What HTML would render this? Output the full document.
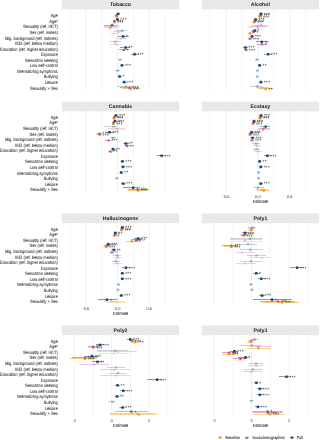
<!DOCTYPE html>
<html><head><meta charset="utf-8"><style>
html,body{margin:0;padding:0;width:319px;height:440px;overflow:hidden;background:#fff;}
svg text{font-family:"Liberation Sans",sans-serif;text-rendering:geometricPrecision;}
</style></head><body>
<svg width="319" height="440" viewBox="0 0 319 440" style="position:absolute;left:0;top:0;will-change:transform">
<rect x="0" y="0" width="319" height="440" fill="#FFFFFF"/>
<line x1="70.05" y1="9.40" x2="70.05" y2="90.50" stroke="#EBEBEB" stroke-width="0.5"/>
<line x1="101.75" y1="9.40" x2="101.75" y2="90.50" stroke="#EBEBEB" stroke-width="0.5"/>
<line x1="133.45" y1="9.40" x2="133.45" y2="90.50" stroke="#EBEBEB" stroke-width="0.5"/>
<line x1="165.15" y1="9.40" x2="165.15" y2="90.50" stroke="#EBEBEB" stroke-width="0.5"/>
<line x1="85.90" y1="9.40" x2="85.90" y2="90.50" stroke="#E0E0E0" stroke-width="0.5"/>
<line x1="149.30" y1="9.40" x2="149.30" y2="90.50" stroke="#E0E0E0" stroke-width="0.5"/>
<line x1="117.60" y1="9.40" x2="117.60" y2="90.50" stroke="#C8C8C8" stroke-width="0.5" stroke-dasharray="1.5 1"/>
<rect x="61.75" y="0.0" width="117.5" height="9.4" fill="#E8E8E8"/>
<text x="120.50" y="5.80" font-size="5.2" font-weight="bold" text-anchor="middle" fill="#1A1A1A">Tobacco</text>
<text x="50.68" y="17.30" font-size="4.5" textLength="7.12" lengthAdjust="spacingAndGlyphs" fill="#3A3A3A" stroke="#3A3A3A" stroke-width="0.08">Age</text>
<text x="49.35" y="22.86" font-size="4.5" textLength="8.45" lengthAdjust="spacingAndGlyphs" fill="#3A3A3A" stroke="#3A3A3A" stroke-width="0.08">Age²</text>
<text x="22.90" y="28.42" font-size="4.5" textLength="34.90" lengthAdjust="spacingAndGlyphs" fill="#3A3A3A" stroke="#3A3A3A" stroke-width="0.08">Sexuality (ref. HET)</text>
<text x="29.57" y="33.98" font-size="4.5" textLength="28.23" lengthAdjust="spacingAndGlyphs" fill="#3A3A3A" stroke="#3A3A3A" stroke-width="0.08">Sex (ref. males)</text>
<text x="4.89" y="39.54" font-size="4.5" textLength="52.91" lengthAdjust="spacingAndGlyphs" fill="#3A3A3A" stroke="#3A3A3A" stroke-width="0.08">Mig. background (ref. natives)</text>
<text x="14.89" y="45.10" font-size="4.5" textLength="42.91" lengthAdjust="spacingAndGlyphs" fill="#3A3A3A" stroke="#3A3A3A" stroke-width="0.08">ISEI (ref. below median)</text>
<text x="-0.24" y="50.66" font-size="4.5" textLength="58.04" lengthAdjust="spacingAndGlyphs" fill="#3A3A3A" stroke="#3A3A3A" stroke-width="0.08">Education (ref. higher education)</text>
<text x="40.90" y="56.22" font-size="4.5" textLength="16.90" lengthAdjust="spacingAndGlyphs" fill="#3A3A3A" stroke="#3A3A3A" stroke-width="0.08">Exposure</text>
<text x="25.11" y="61.78" font-size="4.5" textLength="32.69" lengthAdjust="spacingAndGlyphs" fill="#3A3A3A" stroke="#3A3A3A" stroke-width="0.08">Sensation seeking</text>
<text x="29.79" y="67.34" font-size="4.5" textLength="28.01" lengthAdjust="spacingAndGlyphs" fill="#3A3A3A" stroke="#3A3A3A" stroke-width="0.08">Low self-control</text>
<text x="16.90" y="72.90" font-size="4.5" textLength="40.90" lengthAdjust="spacingAndGlyphs" fill="#3A3A3A" stroke="#3A3A3A" stroke-width="0.08">Internalizing symptoms</text>
<text x="43.79" y="78.46" font-size="4.5" textLength="14.01" lengthAdjust="spacingAndGlyphs" fill="#3A3A3A" stroke="#3A3A3A" stroke-width="0.08">Bullying</text>
<text x="44.68" y="84.02" font-size="4.5" textLength="13.12" lengthAdjust="spacingAndGlyphs" fill="#3A3A3A" stroke="#3A3A3A" stroke-width="0.08">Leisure</text>
<text x="30.12" y="89.58" font-size="4.5" textLength="27.68" lengthAdjust="spacingAndGlyphs" fill="#3A3A3A" stroke="#3A3A3A" stroke-width="0.08">Sexuality × Sex</text>
<line x1="210.05" y1="9.40" x2="210.05" y2="90.50" stroke="#EBEBEB" stroke-width="0.5"/>
<line x1="241.95" y1="9.40" x2="241.95" y2="90.50" stroke="#EBEBEB" stroke-width="0.5"/>
<line x1="273.85" y1="9.40" x2="273.85" y2="90.50" stroke="#EBEBEB" stroke-width="0.5"/>
<line x1="305.75" y1="9.40" x2="305.75" y2="90.50" stroke="#EBEBEB" stroke-width="0.5"/>
<line x1="226.00" y1="9.40" x2="226.00" y2="90.50" stroke="#E0E0E0" stroke-width="0.5"/>
<line x1="289.80" y1="9.40" x2="289.80" y2="90.50" stroke="#E0E0E0" stroke-width="0.5"/>
<line x1="257.90" y1="9.40" x2="257.90" y2="90.50" stroke="#C8C8C8" stroke-width="0.5" stroke-dasharray="1.5 1"/>
<rect x="201.75" y="0.0" width="117.25" height="9.4" fill="#E8E8E8"/>
<text x="260.38" y="5.80" font-size="5.2" font-weight="bold" text-anchor="middle" fill="#1A1A1A">Alcohol</text>
<line x1="70.05" y1="111.00" x2="70.05" y2="192.10" stroke="#EBEBEB" stroke-width="0.5"/>
<line x1="101.75" y1="111.00" x2="101.75" y2="192.10" stroke="#EBEBEB" stroke-width="0.5"/>
<line x1="133.45" y1="111.00" x2="133.45" y2="192.10" stroke="#EBEBEB" stroke-width="0.5"/>
<line x1="165.15" y1="111.00" x2="165.15" y2="192.10" stroke="#EBEBEB" stroke-width="0.5"/>
<line x1="85.90" y1="111.00" x2="85.90" y2="192.10" stroke="#E0E0E0" stroke-width="0.5"/>
<line x1="149.30" y1="111.00" x2="149.30" y2="192.10" stroke="#E0E0E0" stroke-width="0.5"/>
<line x1="117.60" y1="111.00" x2="117.60" y2="192.10" stroke="#C8C8C8" stroke-width="0.5" stroke-dasharray="1.5 1"/>
<rect x="61.75" y="101.6" width="117.5" height="9.700000000000001" fill="#E8E8E8"/>
<text x="120.50" y="107.95" font-size="5.2" font-weight="bold" text-anchor="middle" fill="#1A1A1A">Cannabis</text>
<text x="50.68" y="118.90" font-size="4.5" textLength="7.12" lengthAdjust="spacingAndGlyphs" fill="#3A3A3A" stroke="#3A3A3A" stroke-width="0.08">Age</text>
<text x="49.35" y="124.46" font-size="4.5" textLength="8.45" lengthAdjust="spacingAndGlyphs" fill="#3A3A3A" stroke="#3A3A3A" stroke-width="0.08">Age²</text>
<text x="22.90" y="130.02" font-size="4.5" textLength="34.90" lengthAdjust="spacingAndGlyphs" fill="#3A3A3A" stroke="#3A3A3A" stroke-width="0.08">Sexuality (ref. HET)</text>
<text x="29.57" y="135.58" font-size="4.5" textLength="28.23" lengthAdjust="spacingAndGlyphs" fill="#3A3A3A" stroke="#3A3A3A" stroke-width="0.08">Sex (ref. males)</text>
<text x="4.89" y="141.14" font-size="4.5" textLength="52.91" lengthAdjust="spacingAndGlyphs" fill="#3A3A3A" stroke="#3A3A3A" stroke-width="0.08">Mig. background (ref. natives)</text>
<text x="14.89" y="146.70" font-size="4.5" textLength="42.91" lengthAdjust="spacingAndGlyphs" fill="#3A3A3A" stroke="#3A3A3A" stroke-width="0.08">ISEI (ref. below median)</text>
<text x="-0.24" y="152.26" font-size="4.5" textLength="58.04" lengthAdjust="spacingAndGlyphs" fill="#3A3A3A" stroke="#3A3A3A" stroke-width="0.08">Education (ref. higher education)</text>
<text x="40.90" y="157.82" font-size="4.5" textLength="16.90" lengthAdjust="spacingAndGlyphs" fill="#3A3A3A" stroke="#3A3A3A" stroke-width="0.08">Exposure</text>
<text x="25.11" y="163.38" font-size="4.5" textLength="32.69" lengthAdjust="spacingAndGlyphs" fill="#3A3A3A" stroke="#3A3A3A" stroke-width="0.08">Sensation seeking</text>
<text x="29.79" y="168.94" font-size="4.5" textLength="28.01" lengthAdjust="spacingAndGlyphs" fill="#3A3A3A" stroke="#3A3A3A" stroke-width="0.08">Low self-control</text>
<text x="16.90" y="174.50" font-size="4.5" textLength="40.90" lengthAdjust="spacingAndGlyphs" fill="#3A3A3A" stroke="#3A3A3A" stroke-width="0.08">Internalizing symptoms</text>
<text x="43.79" y="180.06" font-size="4.5" textLength="14.01" lengthAdjust="spacingAndGlyphs" fill="#3A3A3A" stroke="#3A3A3A" stroke-width="0.08">Bullying</text>
<text x="44.68" y="185.62" font-size="4.5" textLength="13.12" lengthAdjust="spacingAndGlyphs" fill="#3A3A3A" stroke="#3A3A3A" stroke-width="0.08">Leisure</text>
<text x="30.12" y="191.18" font-size="4.5" textLength="27.68" lengthAdjust="spacingAndGlyphs" fill="#3A3A3A" stroke="#3A3A3A" stroke-width="0.08">Sexuality × Sex</text>
<line x1="210.05" y1="111.00" x2="210.05" y2="192.10" stroke="#EBEBEB" stroke-width="0.5"/>
<line x1="241.95" y1="111.00" x2="241.95" y2="192.10" stroke="#EBEBEB" stroke-width="0.5"/>
<line x1="273.85" y1="111.00" x2="273.85" y2="192.10" stroke="#EBEBEB" stroke-width="0.5"/>
<line x1="305.75" y1="111.00" x2="305.75" y2="192.10" stroke="#EBEBEB" stroke-width="0.5"/>
<line x1="226.00" y1="111.00" x2="226.00" y2="192.10" stroke="#E0E0E0" stroke-width="0.5"/>
<line x1="289.80" y1="111.00" x2="289.80" y2="192.10" stroke="#E0E0E0" stroke-width="0.5"/>
<line x1="257.90" y1="111.00" x2="257.90" y2="192.10" stroke="#C8C8C8" stroke-width="0.5" stroke-dasharray="1.5 1"/>
<rect x="201.75" y="101.6" width="117.25" height="9.700000000000001" fill="#E8E8E8"/>
<text x="260.38" y="107.95" font-size="5.2" font-weight="bold" text-anchor="middle" fill="#1A1A1A">Ecstasy</text>
<text x="226.00" y="197.70" font-size="4.0" text-anchor="middle" fill="#505050" stroke="#505050" stroke-width="0.06">-0.5</text>
<text x="257.90" y="197.70" font-size="4.0" text-anchor="middle" fill="#505050" stroke="#505050" stroke-width="0.06">0.0</text>
<text x="289.80" y="197.70" font-size="4.0" text-anchor="middle" fill="#505050" stroke="#505050" stroke-width="0.06">0.5</text>
<text x="252.69" y="202.80" font-size="4.5" textLength="15.37" lengthAdjust="spacingAndGlyphs" fill="#1A1A1A" stroke="#1A1A1A" stroke-width="0.06">Estimate</text>
<line x1="70.05" y1="222.90" x2="70.05" y2="304.00" stroke="#EBEBEB" stroke-width="0.5"/>
<line x1="101.75" y1="222.90" x2="101.75" y2="304.00" stroke="#EBEBEB" stroke-width="0.5"/>
<line x1="133.45" y1="222.90" x2="133.45" y2="304.00" stroke="#EBEBEB" stroke-width="0.5"/>
<line x1="165.15" y1="222.90" x2="165.15" y2="304.00" stroke="#EBEBEB" stroke-width="0.5"/>
<line x1="85.90" y1="222.90" x2="85.90" y2="304.00" stroke="#E0E0E0" stroke-width="0.5"/>
<line x1="149.30" y1="222.90" x2="149.30" y2="304.00" stroke="#E0E0E0" stroke-width="0.5"/>
<line x1="117.60" y1="222.90" x2="117.60" y2="304.00" stroke="#C8C8C8" stroke-width="0.5" stroke-dasharray="1.5 1"/>
<rect x="61.75" y="213.5" width="117.5" height="9.700000000000001" fill="#E8E8E8"/>
<text x="120.50" y="219.85" font-size="5.2" font-weight="bold" text-anchor="middle" fill="#1A1A1A">Hallucinogens</text>
<text x="50.68" y="230.80" font-size="4.5" textLength="7.12" lengthAdjust="spacingAndGlyphs" fill="#3A3A3A" stroke="#3A3A3A" stroke-width="0.08">Age</text>
<text x="49.35" y="236.36" font-size="4.5" textLength="8.45" lengthAdjust="spacingAndGlyphs" fill="#3A3A3A" stroke="#3A3A3A" stroke-width="0.08">Age²</text>
<text x="22.90" y="241.92" font-size="4.5" textLength="34.90" lengthAdjust="spacingAndGlyphs" fill="#3A3A3A" stroke="#3A3A3A" stroke-width="0.08">Sexuality (ref. HET)</text>
<text x="29.57" y="247.48" font-size="4.5" textLength="28.23" lengthAdjust="spacingAndGlyphs" fill="#3A3A3A" stroke="#3A3A3A" stroke-width="0.08">Sex (ref. males)</text>
<text x="4.89" y="253.04" font-size="4.5" textLength="52.91" lengthAdjust="spacingAndGlyphs" fill="#3A3A3A" stroke="#3A3A3A" stroke-width="0.08">Mig. background (ref. natives)</text>
<text x="14.89" y="258.60" font-size="4.5" textLength="42.91" lengthAdjust="spacingAndGlyphs" fill="#3A3A3A" stroke="#3A3A3A" stroke-width="0.08">ISEI (ref. below median)</text>
<text x="-0.24" y="264.16" font-size="4.5" textLength="58.04" lengthAdjust="spacingAndGlyphs" fill="#3A3A3A" stroke="#3A3A3A" stroke-width="0.08">Education (ref. higher education)</text>
<text x="40.90" y="269.72" font-size="4.5" textLength="16.90" lengthAdjust="spacingAndGlyphs" fill="#3A3A3A" stroke="#3A3A3A" stroke-width="0.08">Exposure</text>
<text x="25.11" y="275.28" font-size="4.5" textLength="32.69" lengthAdjust="spacingAndGlyphs" fill="#3A3A3A" stroke="#3A3A3A" stroke-width="0.08">Sensation seeking</text>
<text x="29.79" y="280.84" font-size="4.5" textLength="28.01" lengthAdjust="spacingAndGlyphs" fill="#3A3A3A" stroke="#3A3A3A" stroke-width="0.08">Low self-control</text>
<text x="16.90" y="286.40" font-size="4.5" textLength="40.90" lengthAdjust="spacingAndGlyphs" fill="#3A3A3A" stroke="#3A3A3A" stroke-width="0.08">Internalizing symptoms</text>
<text x="43.79" y="291.96" font-size="4.5" textLength="14.01" lengthAdjust="spacingAndGlyphs" fill="#3A3A3A" stroke="#3A3A3A" stroke-width="0.08">Bullying</text>
<text x="44.68" y="297.52" font-size="4.5" textLength="13.12" lengthAdjust="spacingAndGlyphs" fill="#3A3A3A" stroke="#3A3A3A" stroke-width="0.08">Leisure</text>
<text x="30.12" y="303.08" font-size="4.5" textLength="27.68" lengthAdjust="spacingAndGlyphs" fill="#3A3A3A" stroke="#3A3A3A" stroke-width="0.08">Sexuality × Sex</text>
<text x="85.90" y="309.60" font-size="4.0" text-anchor="middle" fill="#505050" stroke="#505050" stroke-width="0.06">-0.5</text>
<text x="117.60" y="309.60" font-size="4.0" text-anchor="middle" fill="#505050" stroke="#505050" stroke-width="0.06">0.0</text>
<text x="149.30" y="309.60" font-size="4.0" text-anchor="middle" fill="#505050" stroke="#505050" stroke-width="0.06">0.5</text>
<text x="112.82" y="314.70" font-size="4.5" textLength="15.37" lengthAdjust="spacingAndGlyphs" fill="#1A1A1A" stroke="#1A1A1A" stroke-width="0.06">Estimate</text>
<line x1="232.75" y1="222.90" x2="232.75" y2="304.00" stroke="#EBEBEB" stroke-width="0.5"/>
<line x1="270.25" y1="222.90" x2="270.25" y2="304.00" stroke="#EBEBEB" stroke-width="0.5"/>
<line x1="307.75" y1="222.90" x2="307.75" y2="304.00" stroke="#EBEBEB" stroke-width="0.5"/>
<line x1="214.00" y1="222.90" x2="214.00" y2="304.00" stroke="#E0E0E0" stroke-width="0.5"/>
<line x1="289.00" y1="222.90" x2="289.00" y2="304.00" stroke="#E0E0E0" stroke-width="0.5"/>
<line x1="251.50" y1="222.90" x2="251.50" y2="304.00" stroke="#C8C8C8" stroke-width="0.5" stroke-dasharray="1.5 1"/>
<rect x="201.75" y="213.5" width="117.25" height="9.700000000000001" fill="#E8E8E8"/>
<text x="260.38" y="219.85" font-size="5.2" font-weight="bold" text-anchor="middle" fill="#1A1A1A">Poly1</text>
<line x1="93.00" y1="334.90" x2="93.00" y2="416.00" stroke="#EBEBEB" stroke-width="0.5"/>
<line x1="130.40" y1="334.90" x2="130.40" y2="416.00" stroke="#EBEBEB" stroke-width="0.5"/>
<line x1="167.80" y1="334.90" x2="167.80" y2="416.00" stroke="#EBEBEB" stroke-width="0.5"/>
<line x1="74.30" y1="334.90" x2="74.30" y2="416.00" stroke="#E0E0E0" stroke-width="0.5"/>
<line x1="149.10" y1="334.90" x2="149.10" y2="416.00" stroke="#E0E0E0" stroke-width="0.5"/>
<line x1="111.70" y1="334.90" x2="111.70" y2="416.00" stroke="#C8C8C8" stroke-width="0.5" stroke-dasharray="1.5 1"/>
<rect x="61.75" y="325.5" width="117.5" height="9.700000000000001" fill="#E8E8E8"/>
<text x="120.50" y="331.85" font-size="5.2" font-weight="bold" text-anchor="middle" fill="#1A1A1A">Poly2</text>
<text x="50.68" y="342.80" font-size="4.5" textLength="7.12" lengthAdjust="spacingAndGlyphs" fill="#3A3A3A" stroke="#3A3A3A" stroke-width="0.08">Age</text>
<text x="49.35" y="348.36" font-size="4.5" textLength="8.45" lengthAdjust="spacingAndGlyphs" fill="#3A3A3A" stroke="#3A3A3A" stroke-width="0.08">Age²</text>
<text x="22.90" y="353.92" font-size="4.5" textLength="34.90" lengthAdjust="spacingAndGlyphs" fill="#3A3A3A" stroke="#3A3A3A" stroke-width="0.08">Sexuality (ref. HET)</text>
<text x="29.57" y="359.48" font-size="4.5" textLength="28.23" lengthAdjust="spacingAndGlyphs" fill="#3A3A3A" stroke="#3A3A3A" stroke-width="0.08">Sex (ref. males)</text>
<text x="4.89" y="365.04" font-size="4.5" textLength="52.91" lengthAdjust="spacingAndGlyphs" fill="#3A3A3A" stroke="#3A3A3A" stroke-width="0.08">Mig. background (ref. natives)</text>
<text x="14.89" y="370.60" font-size="4.5" textLength="42.91" lengthAdjust="spacingAndGlyphs" fill="#3A3A3A" stroke="#3A3A3A" stroke-width="0.08">ISEI (ref. below median)</text>
<text x="-0.24" y="376.16" font-size="4.5" textLength="58.04" lengthAdjust="spacingAndGlyphs" fill="#3A3A3A" stroke="#3A3A3A" stroke-width="0.08">Education (ref. higher education)</text>
<text x="40.90" y="381.72" font-size="4.5" textLength="16.90" lengthAdjust="spacingAndGlyphs" fill="#3A3A3A" stroke="#3A3A3A" stroke-width="0.08">Exposure</text>
<text x="25.11" y="387.28" font-size="4.5" textLength="32.69" lengthAdjust="spacingAndGlyphs" fill="#3A3A3A" stroke="#3A3A3A" stroke-width="0.08">Sensation seeking</text>
<text x="29.79" y="392.84" font-size="4.5" textLength="28.01" lengthAdjust="spacingAndGlyphs" fill="#3A3A3A" stroke="#3A3A3A" stroke-width="0.08">Low self-control</text>
<text x="16.90" y="398.40" font-size="4.5" textLength="40.90" lengthAdjust="spacingAndGlyphs" fill="#3A3A3A" stroke="#3A3A3A" stroke-width="0.08">Internalizing symptoms</text>
<text x="43.79" y="403.96" font-size="4.5" textLength="14.01" lengthAdjust="spacingAndGlyphs" fill="#3A3A3A" stroke="#3A3A3A" stroke-width="0.08">Bullying</text>
<text x="44.68" y="409.52" font-size="4.5" textLength="13.12" lengthAdjust="spacingAndGlyphs" fill="#3A3A3A" stroke="#3A3A3A" stroke-width="0.08">Leisure</text>
<text x="30.12" y="415.08" font-size="4.5" textLength="27.68" lengthAdjust="spacingAndGlyphs" fill="#3A3A3A" stroke="#3A3A3A" stroke-width="0.08">Sexuality × Sex</text>
<text x="74.30" y="421.60" font-size="4.0" text-anchor="middle" fill="#505050" stroke="#505050" stroke-width="0.06">-2</text>
<text x="111.70" y="421.60" font-size="4.0" text-anchor="middle" fill="#505050" stroke="#505050" stroke-width="0.06">0</text>
<text x="149.10" y="421.60" font-size="4.0" text-anchor="middle" fill="#505050" stroke="#505050" stroke-width="0.06">2</text>
<text x="112.82" y="426.70" font-size="4.5" textLength="15.37" lengthAdjust="spacingAndGlyphs" fill="#1A1A1A" stroke="#1A1A1A" stroke-width="0.06">Estimate</text>
<line x1="232.70" y1="334.90" x2="232.70" y2="416.00" stroke="#EBEBEB" stroke-width="0.5"/>
<line x1="270.30" y1="334.90" x2="270.30" y2="416.00" stroke="#EBEBEB" stroke-width="0.5"/>
<line x1="307.90" y1="334.90" x2="307.90" y2="416.00" stroke="#EBEBEB" stroke-width="0.5"/>
<line x1="213.90" y1="334.90" x2="213.90" y2="416.00" stroke="#E0E0E0" stroke-width="0.5"/>
<line x1="289.10" y1="334.90" x2="289.10" y2="416.00" stroke="#E0E0E0" stroke-width="0.5"/>
<line x1="251.50" y1="334.90" x2="251.50" y2="416.00" stroke="#C8C8C8" stroke-width="0.5" stroke-dasharray="1.5 1"/>
<rect x="201.75" y="325.5" width="117.25" height="9.700000000000001" fill="#E8E8E8"/>
<text x="260.38" y="331.85" font-size="5.2" font-weight="bold" text-anchor="middle" fill="#1A1A1A">Poly3</text>
<text x="213.90" y="421.60" font-size="4.0" text-anchor="middle" fill="#505050" stroke="#505050" stroke-width="0.06">-2</text>
<text x="251.50" y="421.60" font-size="4.0" text-anchor="middle" fill="#505050" stroke="#505050" stroke-width="0.06">0</text>
<text x="289.10" y="421.60" font-size="4.0" text-anchor="middle" fill="#505050" stroke="#505050" stroke-width="0.06">2</text>
<text x="252.69" y="426.70" font-size="4.5" textLength="15.37" lengthAdjust="spacingAndGlyphs" fill="#1A1A1A" stroke="#1A1A1A" stroke-width="0.06">Estimate</text>
<line x1="115.5" y1="16.50" x2="118" y2="16.50" stroke="#F4A000" stroke-width="0.55" opacity="1.0"/>
<circle cx="116.8" cy="16.70" r="1.35" fill="#F4A000" opacity="1.0"/>
<line x1="115" y1="15.50" x2="117.5" y2="15.50" stroke="#B5489C" stroke-width="0.55" opacity="1.0"/>
<path d="M116.20 13.69 L117.75 16.37 L114.65 16.37 Z" fill="#B5489C" opacity="1.0"/>
<line x1="116.5" y1="13.50" x2="119.5" y2="13.50" stroke="#1B4A6E" stroke-width="0.55" opacity="1.0"/>
<rect x="116.95" y="12.65" width="2.5" height="2.5" fill="#1B4A6E" opacity="1.0"/>
<line x1="113" y1="22.50" x2="116" y2="22.50" stroke="#F4A000" stroke-width="0.55" opacity="1.0"/>
<circle cx="114.6" cy="22.26" r="1.35" fill="#F4A000" opacity="1.0"/>
<text x="117.50" y="24.11" font-size="4.7" letter-spacing="0.35" fill="#000000">***</text>
<line x1="113" y1="20.50" x2="115.8" y2="20.50" stroke="#B5489C" stroke-width="0.55" opacity="1.0"/>
<path d="M114.30 19.25 L115.85 21.93 L112.75 21.93 Z" fill="#B5489C" opacity="1.0"/>
<text x="117.20" y="22.71" font-size="4.7" letter-spacing="0.35" fill="#000000">***</text>
<line x1="116" y1="19.50" x2="119" y2="19.50" stroke="#1B4A6E" stroke-width="0.55" opacity="1.0"/>
<rect x="116.15" y="18.21" width="2.5" height="2.5" fill="#1B4A6E" opacity="1.0"/>
<text x="120.30" y="21.31" font-size="4.7" letter-spacing="0.35" fill="#000000">***</text>
<line x1="103" y1="27.50" x2="118" y2="27.50" stroke="#F4A000" stroke-width="0.55" opacity="0.73"/>
<circle cx="110.4" cy="27.82" r="1.35" fill="#F4A000" opacity="0.73"/>
<line x1="104" y1="26.50" x2="120" y2="26.50" stroke="#B5489C" stroke-width="0.55" opacity="0.46"/>
<path d="M110.50 24.81 L112.05 27.49 L108.95 27.49 Z" fill="#B5489C" opacity="0.276"/>
<line x1="103.8" y1="25.50" x2="117.5" y2="25.50" stroke="#1B4A6E" stroke-width="0.55" opacity="0.73"/>
<rect x="110.85" y="23.77" width="2.5" height="2.5" fill="#1B4A6E" opacity="0.73"/>
<line x1="110" y1="33.50" x2="122" y2="33.50" stroke="#F4A000" stroke-width="0.55" opacity="0.46"/>
<circle cx="114" cy="33.38" r="1.35" fill="#F4A000" opacity="0.276"/>
<line x1="113" y1="31.50" x2="124" y2="31.50" stroke="#B5489C" stroke-width="0.55" opacity="0.46"/>
<path d="M118.00 30.37 L119.55 33.05 L116.45 33.05 Z" fill="#B5489C" opacity="0.276"/>
<line x1="116" y1="30.50" x2="127" y2="30.50" stroke="#1B4A6E" stroke-width="0.55" opacity="0.46"/>
<rect x="120.75" y="29.33" width="2.5" height="2.5" fill="#1B4A6E" opacity="0.276"/>
<line x1="116" y1="38.50" x2="126" y2="38.50" stroke="#B5489C" stroke-width="0.55" opacity="0.46"/>
<path d="M121.00 37.08 L122.55 39.76 L119.45 39.76 Z" fill="#B5489C" opacity="0.276"/>
<line x1="117.5" y1="36.50" x2="128.8" y2="36.50" stroke="#1B4A6E" stroke-width="0.55" opacity="1.0"/>
<rect x="121.95" y="35.14" width="2.5" height="2.5" fill="#1B4A6E" opacity="1.0"/>
<text x="126.10" y="38.24" font-size="4.7" letter-spacing="0.35" fill="#000000">*</text>
<line x1="110" y1="44.50" x2="122" y2="44.50" stroke="#B5489C" stroke-width="0.55" opacity="0.46"/>
<path d="M116.00 42.64 L117.55 45.32 L114.45 45.32 Z" fill="#B5489C" opacity="0.276"/>
<line x1="109" y1="41.50" x2="121" y2="41.50" stroke="#1B4A6E" stroke-width="0.55" opacity="0.46"/>
<rect x="113.75" y="40.70" width="2.5" height="2.5" fill="#1B4A6E" opacity="0.276"/>
<line x1="119" y1="49.50" x2="129" y2="49.50" stroke="#B5489C" stroke-width="0.55" opacity="1.0"/>
<path d="M123.80 48.20 L125.35 50.88 L122.25 50.88 Z" fill="#B5489C" opacity="1.0"/>
<text x="126.70" y="51.66" font-size="4.7" letter-spacing="0.35" fill="#000000">*</text>
<line x1="120" y1="47.50" x2="130" y2="47.50" stroke="#1B4A6E" stroke-width="0.55" opacity="1.0"/>
<rect x="124.45" y="46.26" width="2.5" height="2.5" fill="#1B4A6E" opacity="1.0"/>
<text x="128.60" y="49.36" font-size="4.7" letter-spacing="0.35" fill="#000000">**</text>
<line x1="131.1" y1="54.50" x2="138.8" y2="54.50" stroke="#1B4A6E" stroke-width="0.55" opacity="1.0"/>
<rect x="133.35" y="52.97" width="2.5" height="2.5" fill="#1B4A6E" opacity="1.0"/>
<text x="137.50" y="56.07" font-size="4.7" letter-spacing="0.35" fill="#000000">***</text>
<line x1="118" y1="59.50" x2="122" y2="59.50" stroke="#1B4A6E" stroke-width="0.55" opacity="0.46"/>
<rect x="118.75" y="58.53" width="2.5" height="2.5" fill="#1B4A6E" opacity="0.276"/>
<line x1="120" y1="65.50" x2="124.5" y2="65.50" stroke="#1B4A6E" stroke-width="0.55" opacity="1.0"/>
<rect x="120.75" y="64.09" width="2.5" height="2.5" fill="#1B4A6E" opacity="1.0"/>
<text x="124.90" y="67.19" font-size="4.7" letter-spacing="0.35" fill="#000000">***</text>
<line x1="115" y1="70.50" x2="120.5" y2="70.50" stroke="#1B4A6E" stroke-width="0.55" opacity="0.46"/>
<rect x="116.35" y="69.65" width="2.5" height="2.5" fill="#1B4A6E" opacity="0.276"/>
<line x1="118" y1="76.50" x2="121.5" y2="76.50" stroke="#1B4A6E" stroke-width="0.55" opacity="1.0"/>
<rect x="118.35" y="75.21" width="2.5" height="2.5" fill="#1B4A6E" opacity="1.0"/>
<text x="122.50" y="78.31" font-size="4.7" letter-spacing="0.35" fill="#000000">*</text>
<line x1="121.9" y1="82.50" x2="127" y2="82.50" stroke="#1B4A6E" stroke-width="0.55" opacity="1.0"/>
<rect x="122.95" y="80.77" width="2.5" height="2.5" fill="#1B4A6E" opacity="1.0"/>
<text x="127.10" y="83.87" font-size="4.7" letter-spacing="0.35" fill="#000000">***</text>
<line x1="122" y1="88.50" x2="138" y2="88.50" stroke="#F4A000" stroke-width="0.55" opacity="1.0"/>
<circle cx="130.7" cy="88.98" r="1.35" fill="#F4A000" opacity="1.0"/>
<text x="133.60" y="90.83" font-size="4.7" letter-spacing="0.35" fill="#000000">***</text>
<line x1="120" y1="87.50" x2="139" y2="87.50" stroke="#B5489C" stroke-width="0.55" opacity="1.0"/>
<path d="M129.40 85.97 L130.95 88.65 L127.85 88.65 Z" fill="#B5489C" opacity="1.0"/>
<text x="132.30" y="89.43" font-size="4.7" letter-spacing="0.35" fill="#000000">***</text>
<line x1="117.5" y1="86.50" x2="134.5" y2="86.50" stroke="#1B4A6E" stroke-width="0.55" opacity="0.46"/>
<rect x="124.75" y="84.93" width="2.5" height="2.5" fill="#1B4A6E" opacity="0.276"/>
<line x1="258" y1="16.50" x2="262" y2="16.50" stroke="#F4A000" stroke-width="0.55" opacity="1.0"/>
<circle cx="260" cy="16.70" r="1.35" fill="#F4A000" opacity="1.0"/>
<text x="262.90" y="18.55" font-size="4.7" letter-spacing="0.35" fill="#000000">***</text>
<line x1="258.5" y1="15.50" x2="262.5" y2="15.50" stroke="#B5489C" stroke-width="0.55" opacity="1.0"/>
<path d="M260.50 13.69 L262.05 16.37 L258.95 16.37 Z" fill="#B5489C" opacity="1.0"/>
<text x="263.40" y="17.15" font-size="4.7" letter-spacing="0.35" fill="#000000">***</text>
<line x1="259" y1="13.50" x2="263" y2="13.50" stroke="#1B4A6E" stroke-width="0.55" opacity="1.0"/>
<rect x="259.75" y="12.65" width="2.5" height="2.5" fill="#1B4A6E" opacity="1.0"/>
<text x="263.90" y="15.75" font-size="4.7" letter-spacing="0.35" fill="#000000">***</text>
<line x1="252" y1="22.50" x2="256" y2="22.50" stroke="#F4A000" stroke-width="0.55" opacity="1.0"/>
<circle cx="254" cy="22.26" r="1.35" fill="#F4A000" opacity="1.0"/>
<text x="256.90" y="24.11" font-size="4.7" letter-spacing="0.35" fill="#000000">***</text>
<line x1="253" y1="20.50" x2="257" y2="20.50" stroke="#B5489C" stroke-width="0.55" opacity="1.0"/>
<path d="M255.00 19.25 L256.55 21.93 L253.45 21.93 Z" fill="#B5489C" opacity="1.0"/>
<text x="257.90" y="22.71" font-size="4.7" letter-spacing="0.35" fill="#000000">***</text>
<line x1="254" y1="19.50" x2="257.5" y2="19.50" stroke="#1B4A6E" stroke-width="0.55" opacity="1.0"/>
<rect x="254.35" y="18.21" width="2.5" height="2.5" fill="#1B4A6E" opacity="1.0"/>
<text x="258.50" y="21.31" font-size="4.7" letter-spacing="0.35" fill="#000000">***</text>
<line x1="247" y1="27.50" x2="266" y2="27.50" stroke="#F4A000" stroke-width="0.55" opacity="0.46"/>
<circle cx="257" cy="27.82" r="1.35" fill="#F4A000" opacity="0.276"/>
<line x1="249" y1="26.50" x2="267" y2="26.50" stroke="#B5489C" stroke-width="0.55" opacity="0.46"/>
<path d="M258.00 24.81 L259.55 27.49 L256.45 27.49 Z" fill="#B5489C" opacity="0.276"/>
<line x1="251" y1="25.50" x2="268" y2="25.50" stroke="#1B4A6E" stroke-width="0.55" opacity="0.46"/>
<rect x="259.75" y="23.77" width="2.5" height="2.5" fill="#1B4A6E" opacity="0.276"/>
<line x1="247.5" y1="33.50" x2="252.5" y2="33.50" stroke="#F4A000" stroke-width="0.55" opacity="1.0"/>
<circle cx="250" cy="33.38" r="1.35" fill="#F4A000" opacity="1.0"/>
<line x1="251" y1="31.50" x2="256" y2="31.50" stroke="#B5489C" stroke-width="0.55" opacity="1.0"/>
<path d="M253.50 30.37 L255.05 33.05 L251.95 33.05 Z" fill="#B5489C" opacity="1.0"/>
<text x="256.40" y="33.83" font-size="4.7" letter-spacing="0.35" fill="#000000">*</text>
<line x1="252" y1="30.50" x2="257" y2="30.50" stroke="#1B4A6E" stroke-width="0.55" opacity="1.0"/>
<rect x="253.55" y="29.33" width="2.5" height="2.5" fill="#1B4A6E" opacity="1.0"/>
<text x="257.70" y="32.43" font-size="4.7" letter-spacing="0.35" fill="#000000">*</text>
<line x1="248" y1="38.50" x2="252.5" y2="38.50" stroke="#B5489C" stroke-width="0.55" opacity="1.0"/>
<path d="M250.00 37.08 L251.55 39.76 L248.45 39.76 Z" fill="#B5489C" opacity="1.0"/>
<text x="252.90" y="40.54" font-size="4.7" letter-spacing="0.35" fill="#000000">***</text>
<line x1="250" y1="36.50" x2="254" y2="36.50" stroke="#1B4A6E" stroke-width="0.55" opacity="1.0"/>
<rect x="250.75" y="35.14" width="2.5" height="2.5" fill="#1B4A6E" opacity="1.0"/>
<text x="254.90" y="38.24" font-size="4.7" letter-spacing="0.35" fill="#000000">***</text>
<line x1="257" y1="44.50" x2="267" y2="44.50" stroke="#B5489C" stroke-width="0.55" opacity="1.0"/>
<path d="M262.00 42.64 L263.55 45.32 L260.45 45.32 Z" fill="#B5489C" opacity="1.0"/>
<text x="264.90" y="46.10" font-size="4.7" letter-spacing="0.35" fill="#000000">*</text>
<line x1="256" y1="41.50" x2="267" y2="41.50" stroke="#1B4A6E" stroke-width="0.55" opacity="1.0"/>
<rect x="260.55" y="40.70" width="2.5" height="2.5" fill="#1B4A6E" opacity="1.0"/>
<text x="264.70" y="43.80" font-size="4.7" letter-spacing="0.35" fill="#000000">**</text>
<line x1="243.5" y1="49.50" x2="248.5" y2="49.50" stroke="#B5489C" stroke-width="0.55" opacity="1.0"/>
<path d="M246.00 48.20 L247.55 50.88 L244.45 50.88 Z" fill="#B5489C" opacity="1.0"/>
<text x="248.90" y="51.66" font-size="4.7" letter-spacing="0.35" fill="#000000">***</text>
<line x1="243" y1="47.50" x2="248" y2="47.50" stroke="#1B4A6E" stroke-width="0.55" opacity="1.0"/>
<rect x="244.15" y="46.26" width="2.5" height="2.5" fill="#1B4A6E" opacity="1.0"/>
<text x="248.30" y="49.36" font-size="4.7" letter-spacing="0.35" fill="#000000">***</text>
<line x1="264" y1="54.50" x2="272" y2="54.50" stroke="#1B4A6E" stroke-width="0.55" opacity="1.0"/>
<rect x="266.95" y="52.97" width="2.5" height="2.5" fill="#1B4A6E" opacity="1.0"/>
<text x="271.10" y="56.07" font-size="4.7" letter-spacing="0.35" fill="#000000">***</text>
<line x1="255" y1="59.50" x2="259" y2="59.50" stroke="#1B4A6E" stroke-width="0.55" opacity="0.46"/>
<rect x="255.75" y="58.53" width="2.5" height="2.5" fill="#1B4A6E" opacity="0.276"/>
<line x1="258" y1="65.50" x2="261.5" y2="65.50" stroke="#1B4A6E" stroke-width="0.55" opacity="1.0"/>
<rect x="258.35" y="64.09" width="2.5" height="2.5" fill="#1B4A6E" opacity="1.0"/>
<text x="262.50" y="67.19" font-size="4.7" letter-spacing="0.35" fill="#000000">**</text>
<line x1="256" y1="70.50" x2="259" y2="70.50" stroke="#1B4A6E" stroke-width="0.55" opacity="0.46"/>
<rect x="256.25" y="69.65" width="2.5" height="2.5" fill="#1B4A6E" opacity="0.276"/>
<line x1="256" y1="76.50" x2="258.5" y2="76.50" stroke="#1B4A6E" stroke-width="0.55" opacity="0.46"/>
<rect x="255.75" y="75.21" width="2.5" height="2.5" fill="#1B4A6E" opacity="0.276"/>
<line x1="259" y1="82.50" x2="263" y2="82.50" stroke="#1B4A6E" stroke-width="0.55" opacity="1.0"/>
<rect x="259.65" y="80.77" width="2.5" height="2.5" fill="#1B4A6E" opacity="1.0"/>
<text x="263.80" y="83.87" font-size="4.7" letter-spacing="0.35" fill="#000000">***</text>
<line x1="258" y1="88.50" x2="273" y2="88.50" stroke="#F4A000" stroke-width="0.55" opacity="1.0"/>
<circle cx="265.6" cy="88.98" r="1.35" fill="#F4A000" opacity="1.0"/>
<text x="268.50" y="90.83" font-size="4.7" letter-spacing="0.35" fill="#000000">**</text>
<line x1="256" y1="87.50" x2="269" y2="87.50" stroke="#B5489C" stroke-width="0.55" opacity="0.55"/>
<path d="M262.50 85.97 L264.05 88.65 L260.95 88.65 Z" fill="#B5489C" opacity="0.33"/>
<line x1="250" y1="86.50" x2="262" y2="86.50" stroke="#1B4A6E" stroke-width="0.55" opacity="0.46"/>
<rect x="255.75" y="84.93" width="2.5" height="2.5" fill="#1B4A6E" opacity="0.276"/>
<line x1="112.5" y1="118.50" x2="115.5" y2="118.50" stroke="#F4A000" stroke-width="0.55" opacity="1.0"/>
<circle cx="114" cy="118.30" r="1.35" fill="#F4A000" opacity="1.0"/>
<text x="116.90" y="120.15" font-size="4.7" letter-spacing="0.35" fill="#000000">***</text>
<line x1="113" y1="116.50" x2="116" y2="116.50" stroke="#B5489C" stroke-width="0.55" opacity="1.0"/>
<path d="M114.30 115.29 L115.85 117.97 L112.75 117.97 Z" fill="#B5489C" opacity="1.0"/>
<text x="117.20" y="118.75" font-size="4.7" letter-spacing="0.35" fill="#000000">***</text>
<line x1="114.5" y1="115.50" x2="117.5" y2="115.50" stroke="#1B4A6E" stroke-width="0.55" opacity="1.0"/>
<rect x="114.75" y="114.25" width="2.5" height="2.5" fill="#1B4A6E" opacity="1.0"/>
<text x="118.90" y="117.35" font-size="4.7" letter-spacing="0.35" fill="#000000">***</text>
<line x1="112" y1="123.50" x2="115" y2="123.50" stroke="#F4A000" stroke-width="0.55" opacity="1.0"/>
<circle cx="113.3" cy="123.86" r="1.35" fill="#F4A000" opacity="1.0"/>
<text x="116.20" y="125.71" font-size="4.7" letter-spacing="0.35" fill="#000000">***</text>
<line x1="112" y1="122.50" x2="115" y2="122.50" stroke="#B5489C" stroke-width="0.55" opacity="1.0"/>
<path d="M113.50 120.85 L115.05 123.53 L111.95 123.53 Z" fill="#B5489C" opacity="1.0"/>
<text x="116.40" y="124.31" font-size="4.7" letter-spacing="0.35" fill="#000000">***</text>
<line x1="113.5" y1="121.50" x2="116.5" y2="121.50" stroke="#1B4A6E" stroke-width="0.55" opacity="1.0"/>
<rect x="113.75" y="119.81" width="2.5" height="2.5" fill="#1B4A6E" opacity="1.0"/>
<text x="117.90" y="122.91" font-size="4.7" letter-spacing="0.35" fill="#000000">***</text>
<line x1="110" y1="129.50" x2="126" y2="129.50" stroke="#F4A000" stroke-width="0.55" opacity="0.46"/>
<circle cx="117.4" cy="129.42" r="1.35" fill="#F4A000" opacity="0.276"/>
<line x1="108" y1="128.50" x2="125" y2="128.50" stroke="#B5489C" stroke-width="0.55" opacity="0.46"/>
<path d="M116.00 126.41 L117.55 129.09 L114.45 129.09 Z" fill="#B5489C" opacity="0.276"/>
<line x1="104" y1="126.50" x2="117" y2="126.50" stroke="#1B4A6E" stroke-width="0.55" opacity="0.46"/>
<rect x="112.25" y="125.37" width="2.5" height="2.5" fill="#1B4A6E" opacity="0.276"/>
<line x1="96.5" y1="134.50" x2="102" y2="134.50" stroke="#F4A000" stroke-width="0.55" opacity="1.0"/>
<circle cx="99.7" cy="134.98" r="1.35" fill="#F4A000" opacity="1.0"/>
<text x="102.60" y="136.83" font-size="4.7" letter-spacing="0.35" fill="#000000">***</text>
<line x1="96.5" y1="133.50" x2="102" y2="133.50" stroke="#B5489C" stroke-width="0.55" opacity="1.0"/>
<path d="M99.40 131.97 L100.95 134.65 L97.85 134.65 Z" fill="#B5489C" opacity="1.0"/>
<text x="102.30" y="135.43" font-size="4.7" letter-spacing="0.35" fill="#000000">***</text>
<line x1="106" y1="132.50" x2="115" y2="132.50" stroke="#1B4A6E" stroke-width="0.55" opacity="1.0"/>
<rect x="108.35" y="130.93" width="2.5" height="2.5" fill="#1B4A6E" opacity="1.0"/>
<text x="112.50" y="134.03" font-size="4.7" letter-spacing="0.35" fill="#000000">***</text>
<line x1="105" y1="140.50" x2="111" y2="140.50" stroke="#B5489C" stroke-width="0.55" opacity="1.0"/>
<path d="M108.50 138.68 L110.05 141.36 L106.95 141.36 Z" fill="#B5489C" opacity="1.0"/>
<text x="111.40" y="142.14" font-size="4.7" letter-spacing="0.35" fill="#000000">***</text>
<line x1="110" y1="137.50" x2="116" y2="137.50" stroke="#1B4A6E" stroke-width="0.55" opacity="0.55"/>
<rect x="111.75" y="136.74" width="2.5" height="2.5" fill="#1B4A6E" opacity="0.33"/>
<line x1="124" y1="145.50" x2="130" y2="145.50" stroke="#B5489C" stroke-width="0.55" opacity="1.0"/>
<path d="M127.00 144.24 L128.55 146.92 L125.45 146.92 Z" fill="#B5489C" opacity="1.0"/>
<text x="129.90" y="147.70" font-size="4.7" letter-spacing="0.35" fill="#000000">**</text>
<line x1="123" y1="143.50" x2="129" y2="143.50" stroke="#1B4A6E" stroke-width="0.55" opacity="1.0"/>
<rect x="124.75" y="142.30" width="2.5" height="2.5" fill="#1B4A6E" opacity="1.0"/>
<text x="128.90" y="145.40" font-size="4.7" letter-spacing="0.35" fill="#000000">**</text>
<line x1="108" y1="151.50" x2="113" y2="151.50" stroke="#B5489C" stroke-width="0.55" opacity="1.0"/>
<path d="M110.40 149.80 L111.95 152.48 L108.85 152.48 Z" fill="#B5489C" opacity="1.0"/>
<text x="113.30" y="153.26" font-size="4.7" letter-spacing="0.35" fill="#000000">**</text>
<line x1="111" y1="149.50" x2="116" y2="149.50" stroke="#1B4A6E" stroke-width="0.55" opacity="1.0"/>
<rect x="111.75" y="147.86" width="2.5" height="2.5" fill="#1B4A6E" opacity="1.0"/>
<text x="115.90" y="150.96" font-size="4.7" letter-spacing="0.35" fill="#000000">**</text>
<line x1="157" y1="155.50" x2="165" y2="155.50" stroke="#1B4A6E" stroke-width="0.55" opacity="1.0"/>
<rect x="160.35" y="154.57" width="2.5" height="2.5" fill="#1B4A6E" opacity="1.0"/>
<text x="164.50" y="157.67" font-size="4.7" letter-spacing="0.35" fill="#000000">***</text>
<line x1="120.5" y1="161.50" x2="124.5" y2="161.50" stroke="#1B4A6E" stroke-width="0.55" opacity="1.0"/>
<rect x="121.15" y="160.13" width="2.5" height="2.5" fill="#1B4A6E" opacity="1.0"/>
<text x="125.30" y="163.23" font-size="4.7" letter-spacing="0.35" fill="#000000">***</text>
<line x1="121" y1="166.50" x2="125" y2="166.50" stroke="#1B4A6E" stroke-width="0.55" opacity="1.0"/>
<rect x="121.75" y="165.69" width="2.5" height="2.5" fill="#1B4A6E" opacity="1.0"/>
<text x="125.90" y="168.79" font-size="4.7" letter-spacing="0.35" fill="#000000">***</text>
<line x1="119.5" y1="172.50" x2="123" y2="172.50" stroke="#1B4A6E" stroke-width="0.55" opacity="1.0"/>
<rect x="119.95" y="171.25" width="2.5" height="2.5" fill="#1B4A6E" opacity="1.0"/>
<text x="124.10" y="174.35" font-size="4.7" letter-spacing="0.35" fill="#000000">**</text>
<line x1="115" y1="178.50" x2="119" y2="178.50" stroke="#1B4A6E" stroke-width="0.55" opacity="0.46"/>
<rect x="115.25" y="176.81" width="2.5" height="2.5" fill="#1B4A6E" opacity="0.276"/>
<line x1="121" y1="183.50" x2="125.5" y2="183.50" stroke="#1B4A6E" stroke-width="0.55" opacity="1.0"/>
<rect x="121.95" y="182.37" width="2.5" height="2.5" fill="#1B4A6E" opacity="1.0"/>
<text x="126.10" y="185.47" font-size="4.7" letter-spacing="0.35" fill="#000000">***</text>
<line x1="128" y1="190.50" x2="148" y2="190.50" stroke="#F4A000" stroke-width="0.55" opacity="1.0"/>
<circle cx="138.2" cy="190.58" r="1.35" fill="#F4A000" opacity="1.0"/>
<text x="141.10" y="192.43" font-size="4.7" letter-spacing="0.35" fill="#000000">***</text>
<line x1="128" y1="189.50" x2="149" y2="189.50" stroke="#B5489C" stroke-width="0.55" opacity="1.0"/>
<path d="M137.60 187.57 L139.15 190.25 L136.05 190.25 Z" fill="#B5489C" opacity="1.0"/>
<text x="140.50" y="191.03" font-size="4.7" letter-spacing="0.35" fill="#000000">***</text>
<line x1="123" y1="187.50" x2="136" y2="187.50" stroke="#1B4A6E" stroke-width="0.55" opacity="1.0"/>
<rect x="131.95" y="186.53" width="2.5" height="2.5" fill="#1B4A6E" opacity="1.0"/>
<text x="136.10" y="189.63" font-size="4.7" letter-spacing="0.35" fill="#000000">**</text>
<line x1="258" y1="118.50" x2="262" y2="118.50" stroke="#F4A000" stroke-width="0.55" opacity="1.0"/>
<circle cx="260" cy="118.30" r="1.35" fill="#F4A000" opacity="1.0"/>
<text x="262.90" y="120.15" font-size="4.7" letter-spacing="0.35" fill="#000000">***</text>
<line x1="258.5" y1="116.50" x2="262.5" y2="116.50" stroke="#B5489C" stroke-width="0.55" opacity="1.0"/>
<path d="M260.50 115.29 L262.05 117.97 L258.95 117.97 Z" fill="#B5489C" opacity="1.0"/>
<text x="263.40" y="118.75" font-size="4.7" letter-spacing="0.35" fill="#000000">***</text>
<line x1="259" y1="115.50" x2="263" y2="115.50" stroke="#1B4A6E" stroke-width="0.55" opacity="1.0"/>
<rect x="259.75" y="114.25" width="2.5" height="2.5" fill="#1B4A6E" opacity="1.0"/>
<text x="263.90" y="117.35" font-size="4.7" letter-spacing="0.35" fill="#000000">***</text>
<line x1="251" y1="123.50" x2="255" y2="123.50" stroke="#F4A000" stroke-width="0.55" opacity="1.0"/>
<circle cx="253" cy="123.86" r="1.35" fill="#F4A000" opacity="1.0"/>
<text x="255.90" y="125.71" font-size="4.7" letter-spacing="0.35" fill="#000000">***</text>
<line x1="252" y1="122.50" x2="255.5" y2="122.50" stroke="#B5489C" stroke-width="0.55" opacity="1.0"/>
<path d="M253.50 120.85 L255.05 123.53 L251.95 123.53 Z" fill="#B5489C" opacity="1.0"/>
<text x="256.40" y="124.31" font-size="4.7" letter-spacing="0.35" fill="#000000">***</text>
<line x1="252.5" y1="121.50" x2="256" y2="121.50" stroke="#1B4A6E" stroke-width="0.55" opacity="1.0"/>
<rect x="252.75" y="119.81" width="2.5" height="2.5" fill="#1B4A6E" opacity="1.0"/>
<text x="256.90" y="122.91" font-size="4.7" letter-spacing="0.35" fill="#000000">***</text>
<line x1="258" y1="129.50" x2="270" y2="129.50" stroke="#F4A000" stroke-width="0.55" opacity="0.82"/>
<circle cx="262.9" cy="129.42" r="1.35" fill="#F4A000" opacity="0.82"/>
<line x1="258" y1="128.50" x2="270" y2="128.50" stroke="#B5489C" stroke-width="0.55" opacity="0.64"/>
<path d="M264.00 126.41 L265.55 129.09 L262.45 129.09 Z" fill="#B5489C" opacity="0.64"/>
<line x1="260" y1="126.50" x2="270" y2="126.50" stroke="#1B4A6E" stroke-width="0.55" opacity="0.82"/>
<rect x="264.45" y="125.37" width="2.5" height="2.5" fill="#1B4A6E" opacity="0.82"/>
<line x1="248" y1="134.50" x2="252" y2="134.50" stroke="#F4A000" stroke-width="0.55" opacity="1.0"/>
<circle cx="250" cy="134.98" r="1.35" fill="#F4A000" opacity="1.0"/>
<text x="252.90" y="136.83" font-size="4.7" letter-spacing="0.35" fill="#000000">***</text>
<line x1="248.5" y1="133.50" x2="252.5" y2="133.50" stroke="#B5489C" stroke-width="0.55" opacity="1.0"/>
<path d="M250.50 131.97 L252.05 134.65 L248.95 134.65 Z" fill="#B5489C" opacity="1.0"/>
<text x="253.40" y="135.43" font-size="4.7" letter-spacing="0.35" fill="#000000">***</text>
<line x1="249.5" y1="132.50" x2="253.5" y2="132.50" stroke="#1B4A6E" stroke-width="0.55" opacity="1.0"/>
<rect x="250.35" y="130.93" width="2.5" height="2.5" fill="#1B4A6E" opacity="1.0"/>
<text x="254.50" y="134.03" font-size="4.7" letter-spacing="0.35" fill="#000000">***</text>
<line x1="250" y1="140.50" x2="254" y2="140.50" stroke="#B5489C" stroke-width="0.55" opacity="1.0"/>
<path d="M252.00 138.68 L253.55 141.36 L250.45 141.36 Z" fill="#B5489C" opacity="1.0"/>
<text x="254.90" y="142.14" font-size="4.7" letter-spacing="0.35" fill="#000000">***</text>
<line x1="250.5" y1="137.50" x2="254.5" y2="137.50" stroke="#1B4A6E" stroke-width="0.55" opacity="1.0"/>
<rect x="251.35" y="136.74" width="2.5" height="2.5" fill="#1B4A6E" opacity="1.0"/>
<text x="255.50" y="139.84" font-size="4.7" letter-spacing="0.35" fill="#000000">***</text>
<line x1="253" y1="145.50" x2="261" y2="145.50" stroke="#B5489C" stroke-width="0.55" opacity="0.46"/>
<path d="M257.00 144.24 L258.55 146.92 L255.45 146.92 Z" fill="#B5489C" opacity="0.276"/>
<line x1="252" y1="143.50" x2="260" y2="143.50" stroke="#1B4A6E" stroke-width="0.55" opacity="0.46"/>
<rect x="254.75" y="142.30" width="2.5" height="2.5" fill="#1B4A6E" opacity="0.276"/>
<line x1="254" y1="151.50" x2="262" y2="151.50" stroke="#B5489C" stroke-width="0.55" opacity="0.46"/>
<path d="M258.00 149.80 L259.55 152.48 L256.45 152.48 Z" fill="#B5489C" opacity="0.276"/>
<line x1="253" y1="149.50" x2="260" y2="149.50" stroke="#1B4A6E" stroke-width="0.55" opacity="0.46"/>
<rect x="255.25" y="147.86" width="2.5" height="2.5" fill="#1B4A6E" opacity="0.276"/>
<line x1="264" y1="155.50" x2="271" y2="155.50" stroke="#1B4A6E" stroke-width="0.55" opacity="1.0"/>
<rect x="266.15" y="154.57" width="2.5" height="2.5" fill="#1B4A6E" opacity="1.0"/>
<text x="270.30" y="157.67" font-size="4.7" letter-spacing="0.35" fill="#000000">***</text>
<line x1="258" y1="161.50" x2="261.5" y2="161.50" stroke="#1B4A6E" stroke-width="0.55" opacity="1.0"/>
<rect x="258.35" y="160.13" width="2.5" height="2.5" fill="#1B4A6E" opacity="1.0"/>
<text x="262.50" y="163.23" font-size="4.7" letter-spacing="0.35" fill="#000000">**</text>
<line x1="259" y1="166.50" x2="263" y2="166.50" stroke="#1B4A6E" stroke-width="0.55" opacity="1.0"/>
<rect x="259.55" y="165.69" width="2.5" height="2.5" fill="#1B4A6E" opacity="1.0"/>
<text x="263.70" y="168.79" font-size="4.7" letter-spacing="0.35" fill="#000000">***</text>
<line x1="257" y1="172.50" x2="260" y2="172.50" stroke="#1B4A6E" stroke-width="0.55" opacity="0.46"/>
<rect x="257.25" y="171.25" width="2.5" height="2.5" fill="#1B4A6E" opacity="0.276"/>
<line x1="257" y1="178.50" x2="260" y2="178.50" stroke="#1B4A6E" stroke-width="0.55" opacity="0.46"/>
<rect x="257.25" y="176.81" width="2.5" height="2.5" fill="#1B4A6E" opacity="0.276"/>
<line x1="259" y1="183.50" x2="263" y2="183.50" stroke="#1B4A6E" stroke-width="0.55" opacity="1.0"/>
<rect x="259.55" y="182.37" width="2.5" height="2.5" fill="#1B4A6E" opacity="1.0"/>
<text x="263.70" y="185.47" font-size="4.7" letter-spacing="0.35" fill="#000000">***</text>
<line x1="257" y1="190.50" x2="270" y2="190.50" stroke="#F4A000" stroke-width="0.55" opacity="1.0"/>
<circle cx="263.8" cy="190.58" r="1.35" fill="#F4A000" opacity="1.0"/>
<line x1="256" y1="189.50" x2="268" y2="189.50" stroke="#B5489C" stroke-width="0.55" opacity="0.55"/>
<path d="M262.00 187.57 L263.55 190.25 L260.45 190.25 Z" fill="#B5489C" opacity="0.33"/>
<line x1="253" y1="187.50" x2="264" y2="187.50" stroke="#1B4A6E" stroke-width="0.55" opacity="0.46"/>
<rect x="256.75" y="186.53" width="2.5" height="2.5" fill="#1B4A6E" opacity="0.276"/>
<line x1="119.5" y1="230.50" x2="123.5" y2="230.50" stroke="#F4A000" stroke-width="0.55" opacity="1.0"/>
<circle cx="121.5" cy="230.20" r="1.35" fill="#F4A000" opacity="1.0"/>
<text x="124.40" y="232.05" font-size="4.7" letter-spacing="0.35" fill="#000000">***</text>
<line x1="120" y1="228.50" x2="124" y2="228.50" stroke="#B5489C" stroke-width="0.55" opacity="1.0"/>
<path d="M122.00 227.19 L123.55 229.87 L120.45 229.87 Z" fill="#B5489C" opacity="1.0"/>
<text x="124.90" y="230.65" font-size="4.7" letter-spacing="0.35" fill="#000000">***</text>
<line x1="120.5" y1="227.50" x2="124.5" y2="227.50" stroke="#1B4A6E" stroke-width="0.55" opacity="1.0"/>
<rect x="121.15" y="226.15" width="2.5" height="2.5" fill="#1B4A6E" opacity="1.0"/>
<text x="125.30" y="229.25" font-size="4.7" letter-spacing="0.35" fill="#000000">***</text>
<line x1="112.5" y1="235.50" x2="116.5" y2="235.50" stroke="#F4A000" stroke-width="0.55" opacity="1.0"/>
<circle cx="114.5" cy="235.76" r="1.35" fill="#F4A000" opacity="1.0"/>
<text x="117.40" y="237.61" font-size="4.7" letter-spacing="0.35" fill="#000000">*</text>
<line x1="113" y1="234.50" x2="117" y2="234.50" stroke="#B5489C" stroke-width="0.55" opacity="1.0"/>
<path d="M115.00 232.75 L116.55 235.43 L113.45 235.43 Z" fill="#B5489C" opacity="1.0"/>
<text x="117.90" y="236.21" font-size="4.7" letter-spacing="0.35" fill="#000000">*</text>
<line x1="113.5" y1="232.50" x2="117.5" y2="232.50" stroke="#1B4A6E" stroke-width="0.55" opacity="1.0"/>
<rect x="114.15" y="231.71" width="2.5" height="2.5" fill="#1B4A6E" opacity="1.0"/>
<text x="118.30" y="234.81" font-size="4.7" letter-spacing="0.35" fill="#000000">**</text>
<line x1="126" y1="241.50" x2="140" y2="241.50" stroke="#F4A000" stroke-width="0.55" opacity="1.0"/>
<circle cx="131.8" cy="241.32" r="1.35" fill="#F4A000" opacity="1.0"/>
<text x="134.70" y="243.17" font-size="4.7" letter-spacing="0.35" fill="#000000">***</text>
<line x1="131" y1="239.50" x2="141" y2="239.50" stroke="#B5489C" stroke-width="0.55" opacity="1.0"/>
<path d="M136.00 238.31 L137.55 240.99 L134.45 240.99 Z" fill="#B5489C" opacity="1.0"/>
<text x="138.90" y="241.77" font-size="4.7" letter-spacing="0.35" fill="#000000">***</text>
<line x1="134" y1="238.50" x2="142" y2="238.50" stroke="#1B4A6E" stroke-width="0.55" opacity="1.0"/>
<rect x="136.85" y="237.27" width="2.5" height="2.5" fill="#1B4A6E" opacity="1.0"/>
<text x="141.00" y="240.37" font-size="4.7" letter-spacing="0.35" fill="#000000">***</text>
<line x1="103" y1="246.50" x2="109.5" y2="246.50" stroke="#F4A000" stroke-width="0.55" opacity="1.0"/>
<circle cx="106.3" cy="246.88" r="1.35" fill="#F4A000" opacity="1.0"/>
<text x="109.20" y="248.73" font-size="4.7" letter-spacing="0.35" fill="#000000">***</text>
<line x1="104" y1="245.50" x2="110" y2="245.50" stroke="#B5489C" stroke-width="0.55" opacity="1.0"/>
<path d="M107.00 243.87 L108.55 246.55 L105.45 246.55 Z" fill="#B5489C" opacity="1.0"/>
<text x="109.90" y="247.33" font-size="4.7" letter-spacing="0.35" fill="#000000">***</text>
<line x1="106" y1="244.50" x2="111" y2="244.50" stroke="#1B4A6E" stroke-width="0.55" opacity="1.0"/>
<rect x="107.05" y="242.83" width="2.5" height="2.5" fill="#1B4A6E" opacity="1.0"/>
<text x="111.20" y="245.93" font-size="4.7" letter-spacing="0.35" fill="#000000">***</text>
<line x1="109.5" y1="252.50" x2="114.5" y2="252.50" stroke="#B5489C" stroke-width="0.55" opacity="1.0"/>
<path d="M112.00 250.58 L113.55 253.26 L110.45 253.26 Z" fill="#B5489C" opacity="1.0"/>
<text x="114.90" y="254.04" font-size="4.7" letter-spacing="0.35" fill="#000000">*</text>
<line x1="111.5" y1="249.50" x2="116" y2="249.50" stroke="#1B4A6E" stroke-width="0.55" opacity="1.0"/>
<rect x="112.55" y="248.64" width="2.5" height="2.5" fill="#1B4A6E" opacity="1.0"/>
<text x="116.70" y="251.74" font-size="4.7" letter-spacing="0.35" fill="#000000">**</text>
<line x1="114" y1="257.50" x2="122" y2="257.50" stroke="#B5489C" stroke-width="0.55" opacity="0.46"/>
<path d="M118.00 256.14 L119.55 258.82 L116.45 258.82 Z" fill="#B5489C" opacity="0.276"/>
<line x1="113" y1="255.50" x2="121" y2="255.50" stroke="#1B4A6E" stroke-width="0.55" opacity="0.46"/>
<rect x="115.75" y="254.20" width="2.5" height="2.5" fill="#1B4A6E" opacity="0.276"/>
<line x1="113" y1="263.50" x2="121" y2="263.50" stroke="#B5489C" stroke-width="0.55" opacity="0.46"/>
<path d="M117.00 261.70 L118.55 264.38 L115.45 264.38 Z" fill="#B5489C" opacity="0.276"/>
<line x1="112" y1="261.50" x2="120" y2="261.50" stroke="#1B4A6E" stroke-width="0.55" opacity="0.46"/>
<rect x="114.75" y="259.76" width="2.5" height="2.5" fill="#1B4A6E" opacity="0.276"/>
<line x1="122" y1="267.50" x2="130" y2="267.50" stroke="#1B4A6E" stroke-width="0.55" opacity="1.0"/>
<rect x="124.75" y="266.47" width="2.5" height="2.5" fill="#1B4A6E" opacity="1.0"/>
<text x="128.90" y="269.57" font-size="4.7" letter-spacing="0.35" fill="#000000">***</text>
<line x1="120.5" y1="273.50" x2="124.5" y2="273.50" stroke="#1B4A6E" stroke-width="0.55" opacity="1.0"/>
<rect x="121.05" y="272.03" width="2.5" height="2.5" fill="#1B4A6E" opacity="1.0"/>
<text x="125.20" y="275.13" font-size="4.7" letter-spacing="0.35" fill="#000000">***</text>
<line x1="120.5" y1="278.50" x2="124.5" y2="278.50" stroke="#1B4A6E" stroke-width="0.55" opacity="1.0"/>
<rect x="121.05" y="277.59" width="2.5" height="2.5" fill="#1B4A6E" opacity="1.0"/>
<text x="125.20" y="280.69" font-size="4.7" letter-spacing="0.35" fill="#000000">***</text>
<line x1="117" y1="284.50" x2="120" y2="284.50" stroke="#1B4A6E" stroke-width="0.55" opacity="0.46"/>
<rect x="117.25" y="283.15" width="2.5" height="2.5" fill="#1B4A6E" opacity="0.276"/>
<line x1="116.5" y1="289.50" x2="119.5" y2="289.50" stroke="#1B4A6E" stroke-width="0.55" opacity="0.46"/>
<rect x="116.75" y="288.71" width="2.5" height="2.5" fill="#1B4A6E" opacity="0.276"/>
<line x1="119.5" y1="295.50" x2="123.5" y2="295.50" stroke="#1B4A6E" stroke-width="0.55" opacity="1.0"/>
<rect x="120.05" y="294.27" width="2.5" height="2.5" fill="#1B4A6E" opacity="1.0"/>
<text x="124.20" y="297.37" font-size="4.7" letter-spacing="0.35" fill="#000000">***</text>
<line x1="107" y1="302.50" x2="126" y2="302.50" stroke="#F4A000" stroke-width="0.55" opacity="0.46"/>
<circle cx="115" cy="302.48" r="1.35" fill="#F4A000" opacity="0.276"/>
<line x1="104" y1="301.50" x2="124" y2="301.50" stroke="#B5489C" stroke-width="0.55" opacity="0.46"/>
<path d="M112.00 299.47 L113.55 302.15 L110.45 302.15 Z" fill="#B5489C" opacity="0.276"/>
<line x1="97.8" y1="299.50" x2="117.4" y2="299.50" stroke="#1B4A6E" stroke-width="0.55" opacity="1.0"/>
<rect x="105.65" y="298.43" width="2.5" height="2.5" fill="#1B4A6E" opacity="1.0"/>
<text x="109.80" y="301.53" font-size="4.7" letter-spacing="0.35" fill="#000000">*</text>
<line x1="247.5" y1="230.50" x2="254.5" y2="230.50" stroke="#F4A000" stroke-width="0.55" opacity="0.82"/>
<circle cx="251" cy="230.20" r="1.35" fill="#F4A000" opacity="0.82"/>
<line x1="248" y1="228.50" x2="255" y2="228.50" stroke="#B5489C" stroke-width="0.55" opacity="0.64"/>
<path d="M251.50 227.19 L253.05 229.87 L249.95 229.87 Z" fill="#B5489C" opacity="0.64"/>
<line x1="248" y1="227.50" x2="256" y2="227.50" stroke="#1B4A6E" stroke-width="0.55" opacity="0.46"/>
<rect x="251.25" y="226.15" width="2.5" height="2.5" fill="#1B4A6E" opacity="0.276"/>
<line x1="240" y1="235.50" x2="247" y2="235.50" stroke="#F4A000" stroke-width="0.55" opacity="1.0"/>
<circle cx="243.5" cy="235.76" r="1.35" fill="#F4A000" opacity="1.0"/>
<text x="246.40" y="237.61" font-size="4.7" letter-spacing="0.35" fill="#000000">***</text>
<line x1="241" y1="234.50" x2="248" y2="234.50" stroke="#B5489C" stroke-width="0.55" opacity="1.0"/>
<path d="M244.50 232.75 L246.05 235.43 L242.95 235.43 Z" fill="#B5489C" opacity="1.0"/>
<text x="247.40" y="236.21" font-size="4.7" letter-spacing="0.35" fill="#000000">***</text>
<line x1="242" y1="232.50" x2="248" y2="232.50" stroke="#1B4A6E" stroke-width="0.55" opacity="1.0"/>
<rect x="243.75" y="231.71" width="2.5" height="2.5" fill="#1B4A6E" opacity="1.0"/>
<text x="247.90" y="234.81" font-size="4.7" letter-spacing="0.35" fill="#000000">***</text>
<line x1="230" y1="241.50" x2="262" y2="241.50" stroke="#F4A000" stroke-width="0.55" opacity="0.46"/>
<circle cx="245" cy="241.32" r="1.35" fill="#F4A000" opacity="0.276"/>
<line x1="230" y1="239.50" x2="262" y2="239.50" stroke="#B5489C" stroke-width="0.55" opacity="0.46"/>
<path d="M245.00 238.31 L246.55 240.99 L243.45 240.99 Z" fill="#B5489C" opacity="0.276"/>
<line x1="230" y1="238.50" x2="262" y2="238.50" stroke="#1B4A6E" stroke-width="0.55" opacity="0.46"/>
<rect x="248.75" y="237.27" width="2.5" height="2.5" fill="#1B4A6E" opacity="0.276"/>
<line x1="224" y1="246.50" x2="238" y2="246.50" stroke="#F4A000" stroke-width="0.55" opacity="1.0"/>
<circle cx="231.3" cy="246.88" r="1.35" fill="#F4A000" opacity="1.0"/>
<text x="234.20" y="248.73" font-size="4.7" letter-spacing="0.35" fill="#000000">***</text>
<line x1="222" y1="245.50" x2="238" y2="245.50" stroke="#B5489C" stroke-width="0.55" opacity="1.0"/>
<path d="M231.50 243.87 L233.05 246.55 L229.95 246.55 Z" fill="#B5489C" opacity="1.0"/>
<text x="234.40" y="247.33" font-size="4.7" letter-spacing="0.35" fill="#000000">***</text>
<line x1="240" y1="244.50" x2="257" y2="244.50" stroke="#1B4A6E" stroke-width="0.55" opacity="0.46"/>
<rect x="246.75" y="242.83" width="2.5" height="2.5" fill="#1B4A6E" opacity="0.276"/>
<line x1="235" y1="252.50" x2="255" y2="252.50" stroke="#B5489C" stroke-width="0.55" opacity="0.46"/>
<path d="M242.00 250.58 L243.55 253.26 L240.45 253.26 Z" fill="#B5489C" opacity="0.276"/>
<line x1="240" y1="249.50" x2="263" y2="249.50" stroke="#1B4A6E" stroke-width="0.55" opacity="0.46"/>
<rect x="248.75" y="248.64" width="2.5" height="2.5" fill="#1B4A6E" opacity="0.276"/>
<line x1="250" y1="257.50" x2="270" y2="257.50" stroke="#B5489C" stroke-width="0.55" opacity="0.46"/>
<path d="M262.00 256.14 L263.55 258.82 L260.45 258.82 Z" fill="#B5489C" opacity="0.276"/>
<line x1="247" y1="255.50" x2="266" y2="255.50" stroke="#1B4A6E" stroke-width="0.55" opacity="0.46"/>
<rect x="255.25" y="254.20" width="2.5" height="2.5" fill="#1B4A6E" opacity="0.276"/>
<line x1="236" y1="263.50" x2="256" y2="263.50" stroke="#B5489C" stroke-width="0.55" opacity="0.46"/>
<path d="M245.00 261.70 L246.55 264.38 L243.45 264.38 Z" fill="#B5489C" opacity="0.276"/>
<line x1="240" y1="261.50" x2="262" y2="261.50" stroke="#1B4A6E" stroke-width="0.55" opacity="0.46"/>
<rect x="249.75" y="259.76" width="2.5" height="2.5" fill="#1B4A6E" opacity="0.276"/>
<line x1="290" y1="267.50" x2="303" y2="267.50" stroke="#1B4A6E" stroke-width="0.55" opacity="1.0"/>
<rect x="295.95" y="266.47" width="2.5" height="2.5" fill="#1B4A6E" opacity="1.0"/>
<text x="300.10" y="269.57" font-size="4.7" letter-spacing="0.35" fill="#000000">***</text>
<line x1="253" y1="273.50" x2="260" y2="273.50" stroke="#1B4A6E" stroke-width="0.55" opacity="1.0"/>
<rect x="255.05" y="272.03" width="2.5" height="2.5" fill="#1B4A6E" opacity="1.0"/>
<text x="259.20" y="275.13" font-size="4.7" letter-spacing="0.35" fill="#000000">*</text>
<line x1="258" y1="278.50" x2="265" y2="278.50" stroke="#1B4A6E" stroke-width="0.55" opacity="1.0"/>
<rect x="260.05" y="277.59" width="2.5" height="2.5" fill="#1B4A6E" opacity="1.0"/>
<text x="264.20" y="280.69" font-size="4.7" letter-spacing="0.35" fill="#000000">***</text>
<line x1="249" y1="284.50" x2="253" y2="284.50" stroke="#1B4A6E" stroke-width="0.55" opacity="0.46"/>
<rect x="249.75" y="283.15" width="2.5" height="2.5" fill="#1B4A6E" opacity="0.276"/>
<line x1="250" y1="289.50" x2="254" y2="289.50" stroke="#1B4A6E" stroke-width="0.55" opacity="0.46"/>
<rect x="250.75" y="288.71" width="2.5" height="2.5" fill="#1B4A6E" opacity="0.276"/>
<line x1="259" y1="295.50" x2="265" y2="295.50" stroke="#1B4A6E" stroke-width="0.55" opacity="1.0"/>
<rect x="260.85" y="294.27" width="2.5" height="2.5" fill="#1B4A6E" opacity="1.0"/>
<text x="265.00" y="297.37" font-size="4.7" letter-spacing="0.35" fill="#000000">***</text>
<line x1="263" y1="302.50" x2="299" y2="302.50" stroke="#F4A000" stroke-width="0.55" opacity="1.0"/>
<circle cx="282.1" cy="302.48" r="1.35" fill="#F4A000" opacity="1.0"/>
<text x="285.00" y="304.33" font-size="4.7" letter-spacing="0.35" fill="#000000">***</text>
<line x1="260" y1="301.50" x2="295" y2="301.50" stroke="#B5489C" stroke-width="0.55" opacity="1.0"/>
<path d="M278.10 299.47 L279.65 302.15 L276.55 302.15 Z" fill="#B5489C" opacity="1.0"/>
<text x="281.00" y="302.93" font-size="4.7" letter-spacing="0.35" fill="#000000">***</text>
<line x1="253" y1="299.50" x2="292" y2="299.50" stroke="#1B4A6E" stroke-width="0.55" opacity="1.0"/>
<rect x="270.85" y="298.43" width="2.5" height="2.5" fill="#1B4A6E" opacity="1.0"/>
<text x="275.00" y="301.53" font-size="4.7" letter-spacing="0.35" fill="#000000">*</text>
<line x1="131" y1="342.50" x2="138" y2="342.50" stroke="#F4A000" stroke-width="0.55" opacity="1.0"/>
<circle cx="134.7" cy="342.20" r="1.35" fill="#F4A000" opacity="1.0"/>
<text x="137.60" y="344.05" font-size="4.7" letter-spacing="0.35" fill="#000000">***</text>
<line x1="129" y1="340.50" x2="136" y2="340.50" stroke="#B5489C" stroke-width="0.55" opacity="1.0"/>
<path d="M132.00 339.19 L133.55 341.87 L130.45 341.87 Z" fill="#B5489C" opacity="1.0"/>
<text x="134.90" y="342.65" font-size="4.7" letter-spacing="0.35" fill="#000000">***</text>
<line x1="127" y1="339.50" x2="134" y2="339.50" stroke="#1B4A6E" stroke-width="0.55" opacity="1.0"/>
<rect x="128.95" y="338.15" width="2.5" height="2.5" fill="#1B4A6E" opacity="1.0"/>
<text x="133.10" y="341.25" font-size="4.7" letter-spacing="0.35" fill="#000000">***</text>
<line x1="88" y1="347.50" x2="99" y2="347.50" stroke="#F4A000" stroke-width="0.55" opacity="1.0"/>
<circle cx="93.5" cy="347.76" r="1.35" fill="#F4A000" opacity="1.0"/>
<text x="96.40" y="349.61" font-size="4.7" letter-spacing="0.35" fill="#000000">***</text>
<line x1="88" y1="346.50" x2="98" y2="346.50" stroke="#B5489C" stroke-width="0.55" opacity="1.0"/>
<path d="M93.00 344.75 L94.55 347.43 L91.45 347.43 Z" fill="#B5489C" opacity="1.0"/>
<text x="95.90" y="348.21" font-size="4.7" letter-spacing="0.35" fill="#000000">***</text>
<line x1="96" y1="344.50" x2="104" y2="344.50" stroke="#1B4A6E" stroke-width="0.55" opacity="1.0"/>
<rect x="98.75" y="343.71" width="2.5" height="2.5" fill="#1B4A6E" opacity="1.0"/>
<text x="102.90" y="346.81" font-size="4.7" letter-spacing="0.35" fill="#000000">***</text>
<line x1="98" y1="353.50" x2="130" y2="353.50" stroke="#F4A000" stroke-width="0.55" opacity="0.46"/>
<circle cx="113.9" cy="353.32" r="1.35" fill="#F4A000" opacity="0.276"/>
<line x1="97" y1="351.50" x2="137" y2="351.50" stroke="#B5489C" stroke-width="0.55" opacity="0.46"/>
<path d="M117.60 350.31 L119.15 352.99 L116.05 352.99 Z" fill="#B5489C" opacity="0.276"/>
<line x1="97" y1="350.50" x2="128" y2="350.50" stroke="#1B4A6E" stroke-width="0.55" opacity="0.46"/>
<rect x="113.75" y="349.27" width="2.5" height="2.5" fill="#1B4A6E" opacity="0.276"/>
<line x1="70" y1="358.50" x2="97" y2="358.50" stroke="#F4A000" stroke-width="0.55" opacity="1.0"/>
<circle cx="85" cy="358.88" r="1.35" fill="#F4A000" opacity="1.0"/>
<text x="87.90" y="360.73" font-size="4.7" letter-spacing="0.35" fill="#000000">***</text>
<line x1="72" y1="357.50" x2="97" y2="357.50" stroke="#B5489C" stroke-width="0.55" opacity="1.0"/>
<path d="M85.00 355.87 L86.55 358.55 L83.45 358.55 Z" fill="#B5489C" opacity="1.0"/>
<text x="87.90" y="359.33" font-size="4.7" letter-spacing="0.35" fill="#000000">***</text>
<line x1="85" y1="356.50" x2="99" y2="356.50" stroke="#1B4A6E" stroke-width="0.55" opacity="1.0"/>
<rect x="90.75" y="354.83" width="2.5" height="2.5" fill="#1B4A6E" opacity="1.0"/>
<text x="94.90" y="357.93" font-size="4.7" letter-spacing="0.35" fill="#000000">***</text>
<line x1="79" y1="364.50" x2="109" y2="364.50" stroke="#B5489C" stroke-width="0.55" opacity="0.55"/>
<path d="M93.80 362.58 L95.35 365.26 L92.25 365.26 Z" fill="#B5489C" opacity="0.33"/>
<line x1="92" y1="361.50" x2="102" y2="361.50" stroke="#1B4A6E" stroke-width="0.55" opacity="1.0"/>
<rect x="96.25" y="360.64" width="2.5" height="2.5" fill="#1B4A6E" opacity="1.0"/>
<text x="100.40" y="363.74" font-size="4.7" letter-spacing="0.35" fill="#000000">**</text>
<line x1="100" y1="369.50" x2="130" y2="369.50" stroke="#B5489C" stroke-width="0.55" opacity="0.46"/>
<path d="M114.00 368.14 L115.55 370.82 L112.45 370.82 Z" fill="#B5489C" opacity="0.276"/>
<line x1="107" y1="367.50" x2="125" y2="367.50" stroke="#1B4A6E" stroke-width="0.55" opacity="0.46"/>
<rect x="114.55" y="366.20" width="2.5" height="2.5" fill="#1B4A6E" opacity="0.276"/>
<line x1="100" y1="375.50" x2="130" y2="375.50" stroke="#B5489C" stroke-width="0.55" opacity="0.46"/>
<path d="M116.00 373.70 L117.55 376.38 L114.45 376.38 Z" fill="#B5489C" opacity="0.276"/>
<line x1="109" y1="373.50" x2="127" y2="373.50" stroke="#1B4A6E" stroke-width="0.55" opacity="0.46"/>
<rect x="116.75" y="371.76" width="2.5" height="2.5" fill="#1B4A6E" opacity="0.276"/>
<line x1="147" y1="379.50" x2="162" y2="379.50" stroke="#1B4A6E" stroke-width="0.55" opacity="1.0"/>
<rect x="155.95" y="378.47" width="2.5" height="2.5" fill="#1B4A6E" opacity="1.0"/>
<text x="160.10" y="381.57" font-size="4.7" letter-spacing="0.35" fill="#000000">***</text>
<line x1="115" y1="385.50" x2="120" y2="385.50" stroke="#1B4A6E" stroke-width="0.55" opacity="1.0"/>
<rect x="116.35" y="384.03" width="2.5" height="2.5" fill="#1B4A6E" opacity="1.0"/>
<text x="120.50" y="387.13" font-size="4.7" letter-spacing="0.35" fill="#000000">**</text>
<line x1="120" y1="390.50" x2="126" y2="390.50" stroke="#1B4A6E" stroke-width="0.55" opacity="1.0"/>
<rect x="122.05" y="389.59" width="2.5" height="2.5" fill="#1B4A6E" opacity="1.0"/>
<text x="126.20" y="392.69" font-size="4.7" letter-spacing="0.35" fill="#000000">***</text>
<line x1="114.5" y1="396.50" x2="119.5" y2="396.50" stroke="#1B4A6E" stroke-width="0.55" opacity="1.0"/>
<rect x="115.75" y="395.15" width="2.5" height="2.5" fill="#1B4A6E" opacity="1.0"/>
<text x="119.90" y="398.25" font-size="4.7" letter-spacing="0.35" fill="#000000">**</text>
<line x1="108" y1="401.50" x2="116" y2="401.50" stroke="#1B4A6E" stroke-width="0.55" opacity="0.46"/>
<rect x="111.25" y="400.71" width="2.5" height="2.5" fill="#1B4A6E" opacity="0.276"/>
<line x1="119.5" y1="407.50" x2="125.5" y2="407.50" stroke="#1B4A6E" stroke-width="0.55" opacity="1.0"/>
<rect x="121.35" y="406.27" width="2.5" height="2.5" fill="#1B4A6E" opacity="1.0"/>
<text x="125.50" y="409.37" font-size="4.7" letter-spacing="0.35" fill="#000000">***</text>
<line x1="110" y1="414.50" x2="158" y2="414.50" stroke="#F4A000" stroke-width="0.55" opacity="0.82"/>
<circle cx="138.9" cy="414.48" r="1.35" fill="#F4A000" opacity="0.82"/>
<line x1="110" y1="413.50" x2="155" y2="413.50" stroke="#B5489C" stroke-width="0.55" opacity="0.55"/>
<path d="M137.00 411.47 L138.55 414.15 L135.45 414.15 Z" fill="#B5489C" opacity="0.33"/>
<line x1="115" y1="411.50" x2="148" y2="411.50" stroke="#1B4A6E" stroke-width="0.55" opacity="0.64"/>
<rect x="130.15" y="410.43" width="2.5" height="2.5" fill="#1B4A6E" opacity="0.64"/>
<text x="134.30" y="413.53" font-size="4.7" letter-spacing="0.35" fill="#000000">*</text>
<line x1="247" y1="342.50" x2="253.5" y2="342.50" stroke="#F4A000" stroke-width="0.55" opacity="0.91"/>
<circle cx="250.1" cy="342.00" r="1.35" fill="#F4A000" opacity="0.91"/>
<line x1="248" y1="340.50" x2="255" y2="340.50" stroke="#B5489C" stroke-width="0.55" opacity="0.73"/>
<path d="M251.30 338.99 L252.85 341.67 L249.75 341.67 Z" fill="#B5489C" opacity="0.73"/>
<line x1="251" y1="339.50" x2="258" y2="339.50" stroke="#1B4A6E" stroke-width="0.55" opacity="0.55"/>
<rect x="253.35" y="337.95" width="2.5" height="2.5" fill="#1B4A6E" opacity="0.33"/>
<line x1="247" y1="348.50" x2="271" y2="348.50" stroke="#F4A000" stroke-width="0.55" opacity="0.82"/>
<circle cx="258.5" cy="348.03" r="1.35" fill="#F4A000" opacity="0.82"/>
<line x1="249" y1="346.50" x2="271" y2="346.50" stroke="#B5489C" stroke-width="0.55" opacity="0.55"/>
<path d="M258.00 345.02 L259.55 347.70 L256.45 347.70 Z" fill="#B5489C" opacity="0.33"/>
<line x1="240" y1="345.50" x2="262" y2="345.50" stroke="#1B4A6E" stroke-width="0.55" opacity="0.46"/>
<rect x="250.45" y="343.98" width="2.5" height="2.5" fill="#1B4A6E" opacity="0.276"/>
<line x1="222" y1="354.50" x2="236" y2="354.50" stroke="#F4A000" stroke-width="0.55" opacity="1.0"/>
<circle cx="229.3" cy="354.06" r="1.35" fill="#F4A000" opacity="1.0"/>
<text x="232.20" y="355.91" font-size="4.7" letter-spacing="0.35" fill="#000000">***</text>
<line x1="222" y1="352.50" x2="236" y2="352.50" stroke="#B5489C" stroke-width="0.55" opacity="1.0"/>
<path d="M229.00 351.05 L230.55 353.73 L227.45 353.73 Z" fill="#B5489C" opacity="1.0"/>
<text x="231.90" y="354.51" font-size="4.7" letter-spacing="0.35" fill="#000000">***</text>
<line x1="230" y1="351.50" x2="238" y2="351.50" stroke="#1B4A6E" stroke-width="0.55" opacity="1.0"/>
<rect x="233.15" y="350.01" width="2.5" height="2.5" fill="#1B4A6E" opacity="1.0"/>
<text x="237.30" y="353.11" font-size="4.7" letter-spacing="0.35" fill="#000000">***</text>
<line x1="234" y1="360.50" x2="247" y2="360.50" stroke="#F4A000" stroke-width="0.55" opacity="0.37"/>
<circle cx="240.3" cy="360.09" r="1.35" fill="#F4A000" opacity="0.222"/>
<line x1="233" y1="358.50" x2="247" y2="358.50" stroke="#B5489C" stroke-width="0.55" opacity="1.0"/>
<path d="M240.50 357.08 L242.05 359.76 L238.95 359.76 Z" fill="#B5489C" opacity="1.0"/>
<text x="243.40" y="360.54" font-size="4.7" letter-spacing="0.35" fill="#000000">*</text>
<line x1="238" y1="357.50" x2="249" y2="357.50" stroke="#1B4A6E" stroke-width="0.55" opacity="1.0"/>
<rect x="244.35" y="356.04" width="2.5" height="2.5" fill="#1B4A6E" opacity="1.0"/>
<text x="248.50" y="359.14" font-size="4.7" letter-spacing="0.35" fill="#000000">*</text>
<line x1="248" y1="365.50" x2="264" y2="365.50" stroke="#B5489C" stroke-width="0.55" opacity="0.46"/>
<path d="M256.00 364.26 L257.55 366.94 L254.45 366.94 Z" fill="#B5489C" opacity="0.276"/>
<line x1="249" y1="363.50" x2="263" y2="363.50" stroke="#1B4A6E" stroke-width="0.55" opacity="0.46"/>
<rect x="254.75" y="362.32" width="2.5" height="2.5" fill="#1B4A6E" opacity="0.276"/>
<line x1="243" y1="371.50" x2="262" y2="371.50" stroke="#B5489C" stroke-width="0.55" opacity="0.46"/>
<path d="M251.00 370.29 L252.55 372.97 L249.45 372.97 Z" fill="#B5489C" opacity="0.276"/>
<line x1="244" y1="369.50" x2="262" y2="369.50" stroke="#1B4A6E" stroke-width="0.55" opacity="0.46"/>
<rect x="251.75" y="368.35" width="2.5" height="2.5" fill="#1B4A6E" opacity="0.276"/>
<line x1="278.9" y1="376.50" x2="290.2" y2="376.50" stroke="#1B4A6E" stroke-width="0.55" opacity="1.0"/>
<rect x="285.25" y="375.53" width="2.5" height="2.5" fill="#1B4A6E" opacity="1.0"/>
<text x="289.40" y="378.63" font-size="4.7" letter-spacing="0.35" fill="#000000">***</text>
<line x1="254" y1="382.50" x2="258.5" y2="382.50" stroke="#1B4A6E" stroke-width="0.55" opacity="1.0"/>
<rect x="255.15" y="381.56" width="2.5" height="2.5" fill="#1B4A6E" opacity="1.0"/>
<text x="259.30" y="384.66" font-size="4.7" letter-spacing="0.35" fill="#000000">*</text>
<line x1="257" y1="388.50" x2="263" y2="388.50" stroke="#1B4A6E" stroke-width="0.55" opacity="1.0"/>
<rect x="258.65" y="387.59" width="2.5" height="2.5" fill="#1B4A6E" opacity="1.0"/>
<text x="262.80" y="390.69" font-size="4.7" letter-spacing="0.35" fill="#000000">***</text>
<line x1="257" y1="394.50" x2="263" y2="394.50" stroke="#1B4A6E" stroke-width="0.55" opacity="1.0"/>
<rect x="258.65" y="393.62" width="2.5" height="2.5" fill="#1B4A6E" opacity="1.0"/>
<text x="262.80" y="396.72" font-size="4.7" letter-spacing="0.35" fill="#000000">***</text>
<line x1="249.5" y1="400.50" x2="253.5" y2="400.50" stroke="#1B4A6E" stroke-width="0.55" opacity="0.46"/>
<rect x="250.25" y="399.65" width="2.5" height="2.5" fill="#1B4A6E" opacity="0.276"/>
<line x1="255" y1="406.50" x2="261" y2="406.50" stroke="#1B4A6E" stroke-width="0.55" opacity="1.0"/>
<rect x="256.65" y="405.68" width="2.5" height="2.5" fill="#1B4A6E" opacity="1.0"/>
<text x="260.80" y="408.78" font-size="4.7" letter-spacing="0.35" fill="#000000">***</text>
<line x1="253" y1="414.50" x2="284" y2="414.50" stroke="#F4A000" stroke-width="0.55" opacity="0.82"/>
<circle cx="270.1" cy="414.36" r="1.35" fill="#F4A000" opacity="0.82"/>
<text x="273.00" y="416.21" font-size="4.7" letter-spacing="0.35" fill="#000000">***</text>
<line x1="253" y1="412.50" x2="283" y2="412.50" stroke="#B5489C" stroke-width="0.55" opacity="0.82"/>
<path d="M268.00 411.35 L269.55 414.03 L266.45 414.03 Z" fill="#B5489C" opacity="0.82"/>
<text x="270.90" y="414.81" font-size="4.7" letter-spacing="0.35" fill="#000000">***</text>
<line x1="252" y1="411.50" x2="282" y2="411.50" stroke="#1B4A6E" stroke-width="0.55" opacity="0.64"/>
<rect x="266.45" y="410.31" width="2.5" height="2.5" fill="#1B4A6E" opacity="0.64"/>
<text x="270.60" y="413.41" font-size="4.7" letter-spacing="0.35" fill="#000000">*</text>
<line x1="218.00" y1="437.6" x2="222.40" y2="437.6" stroke="#F4A000" stroke-width="0.6"/><circle cx="220.2" cy="437.6" r="1.35" fill="#F4A000"/>
<text x="225.50" y="439.05" font-size="4.3" textLength="14.27" lengthAdjust="spacingAndGlyphs" fill="#1A1A1A" stroke="#1A1A1A" stroke-width="0.06">Baseline</text>
<line x1="244.60" y1="437.6" x2="249.00" y2="437.6" stroke="#B5489C" stroke-width="0.6"/><path d="M246.8 435.90 L248.40 438.70 L245.20 438.70 Z" fill="#B5489C"/>
<text x="252.30" y="439.05" font-size="4.3" textLength="32.67" lengthAdjust="spacingAndGlyphs" fill="#1A1A1A" stroke="#1A1A1A" stroke-width="0.06">Sociodemographics</text>
<line x1="289.70" y1="437.6" x2="294.10" y2="437.6" stroke="#1B4A6E" stroke-width="0.6"/><rect x="290.80" y="436.50" width="2.2" height="2.2" fill="#1B4A6E"/>
<text x="296.70" y="439.05" font-size="4.3" textLength="5.99" lengthAdjust="spacingAndGlyphs" fill="#1A1A1A" stroke="#1A1A1A" stroke-width="0.06">Full</text>
</svg>
</body></html>
